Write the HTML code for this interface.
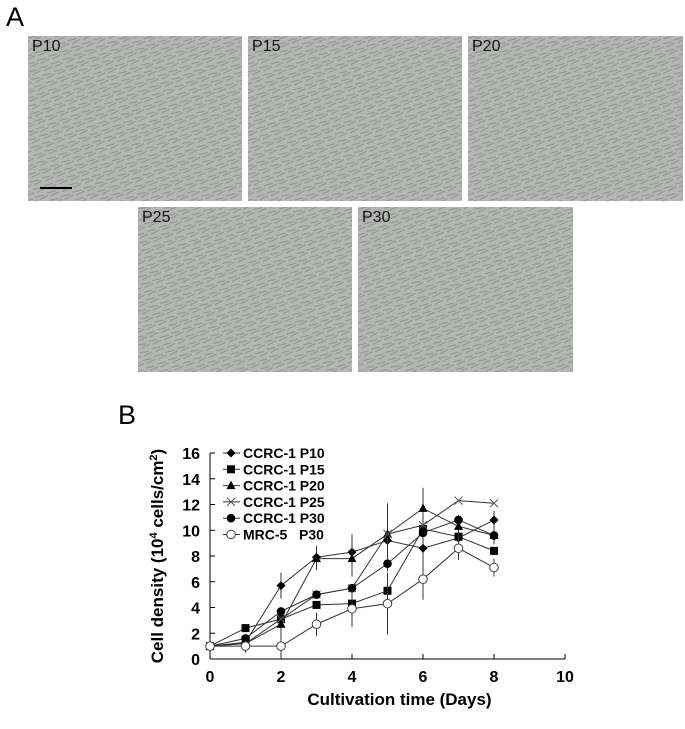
<!DOCTYPE html>
<html><head><meta charset="utf-8"><style>
body{margin:0;background:#fff;font-family:"Liberation Sans",Arial,sans-serif;}
#root{position:relative;width:685px;height:729px;overflow:hidden;}
.panel{position:absolute;width:214px;height:165px;background:#aeb0ae;overflow:hidden;}
.panel span{position:absolute;left:4px;top:2px;font-size:16px;color:#111;}
.bigl{position:absolute;font-size:27px;color:#000;}
</style></head><body>
<div id="root">
<svg width="0" height="0" style="position:absolute"><defs>
<pattern id="tex" width="12" height="8" patternUnits="userSpaceOnUse" patternTransform="rotate(-20)">
<rect width="12" height="8" fill="#b4b6b4"/>
<path d="M0 2 L9 3 M3 6 L12 5" stroke="#8e918e" stroke-width="1"/>
</pattern></defs></svg>
<div class="bigl" style="left:6px;top:2px">A</div>
<div class="panel" style="left:28px;top:36px"><svg width="214" height="165"><rect width="214" height="165" fill="url(#tex)"/><line x1="12" y1="152" x2="44" y2="152" stroke="#000" stroke-width="2"/></svg><span>P10</span></div>
<div class="panel" style="left:248px;top:36px"><svg width="214" height="165"><rect width="214" height="165" fill="url(#tex)"/></svg><span>P15</span></div>
<div class="panel" style="left:468px;top:36px;width:215px"><svg width="215" height="165"><rect width="215" height="165" fill="url(#tex)"/></svg><span>P20</span></div>
<div class="panel" style="left:138px;top:207px"><svg width="214" height="165"><rect width="214" height="165" fill="url(#tex)"/></svg><span>P25</span></div>
<div class="panel" style="left:358px;top:207px;width:215px"><svg width="215" height="165"><rect width="215" height="165" fill="url(#tex)"/></svg><span>P30</span></div>
<div class="bigl" style="left:118px;top:400px">B</div>
<svg id="chart" width="685" height="729" style="position:absolute;left:0;top:0"></svg>
</div>
<script>
const days=[0,1,2,3,4,5,6,7,8];
const xTicks=[0,2,4,6,8,10];
const yTicks=[0,2,4,6,8,10,12,14,16];
const seriesNames=["CCRC-1 P10","CCRC-1 P15","CCRC-1 P20","CCRC-1 P25","CCRC-1 P30","MRC-5   P30"];
const p10=[1,1.3,5.7,7.9,8.3,9.2,8.6,9.4,10.8];
const p15=[1,2.4,3.1,4.2,4.3,5.3,10.1,9.5,8.4];
const p20=[1,1.2,2.7,7.8,7.8,9.7,11.7,10.3,9.6];
const p25=[1,1.2,3.1,5.0,5.5,9.7,10.4,12.3,12.1];
const p30=[1,1.6,3.7,5.0,5.5,7.4,9.8,10.8,9.6];
const mrc5=[1,1.0,1.0,2.7,3.9,4.3,6.2,8.6,7.1];
const errs=[0,0.5,1.0,0.9,1.4,2.4,1.6,0.9,0.7];
const markers=["diamond","square","triangle","x","circle","open"];
const allSeries=[p10,p15,p20,p25,p30,mrc5];
const NS="http://www.w3.org/2000/svg";
const svg=document.getElementById("chart");
const x0=210,x1=565,y0=659,y1=453;
const X=v=>x0+(v-0)/(10-0)*(x1-x0);
const Y=v=>y0-(v-0)/(16-0)*(y0-y1);
function mk(t,a,p){const e=document.createElementNS(NS,t);for(const k in a)e.setAttribute(k,a[k]);(p||svg).appendChild(e);return e;}
let ax=mk("line",{x1:x0,y1:y0,x2:x1,y2:y0,stroke:"#000","stroke-width":1});


let ay=mk("line",{x1:x0,y1:y0,x2:x0,y2:y1,stroke:"#000","stroke-width":1});


xTicks.forEach(t=>{mk("line",{x1:X(t),y1:y0,x2:X(t),y2:y0-5,stroke:"#000"});
 const tx=mk("text",{x:X(t),y:y0+23,"text-anchor":"middle","font-size":16,"font-weight":"bold","font-family":"Liberation Sans"});tx.textContent=t;
 
 });
yTicks.forEach(t=>{mk("line",{x1:x0,y1:Y(t),x2:x0+5,y2:Y(t),stroke:"#000"});
 const tx=mk("text",{x:x0-10,y:Y(t)+6,"text-anchor":"end","font-size":16,"font-weight":"bold","font-family":"Liberation Sans"});tx.textContent=t;
 
 });
let xt=mk("text",{x:(x0+x1)/2+12,y:y0+46,"text-anchor":"middle","font-size":17,"font-weight":"bold","font-family":"Liberation Sans"});
xt.textContent="Cultivation time (Days)";


let yt=mk("text",{transform:`translate(163,${(y0+y1)/2}) rotate(-90)`,"text-anchor":"middle","font-size":17,"font-weight":"bold","font-family":"Liberation Sans"});
yt.innerHTML='Cell density (10<tspan dy="-6" font-size="11">4</tspan><tspan dy="6"> cells/cm</tspan><tspan dy="-6" font-size="11">2</tspan><tspan dy="6">)</tspan>';


function marker(type,cx,cy,g){
 if(type=="diamond")mk("path",{d:`M${cx} ${cy-4.5}L${cx+4.5} ${cy}L${cx} ${cy+4.5}L${cx-4.5} ${cy}Z`,fill:"#000"},g);
 else if(type=="square")mk("rect",{x:cx-4,y:cy-4,width:8,height:8,fill:"#000"},g);
 else if(type=="triangle")mk("path",{d:`M${cx} ${cy-5}L${cx+4.5} ${cy+3.5}L${cx-4.5} ${cy+3.5}Z`,fill:"#000"},g);
 else if(type=="x")mk("path",{d:`M${cx-4} ${cy-4}L${cx+4} ${cy+4}M${cx-4} ${cy+4}L${cx+4} ${cy-4}`,stroke:"#555","stroke-width":1},g);
 else if(type=="circle")mk("circle",{cx,cy,r:4.3,fill:"#000"},g);
 else mk("circle",{cx,cy,r:4.3,fill:"#fff",stroke:"#444"},g);
}
allSeries.forEach((s,i)=>{
 const g=mk("g",{});
 
 
 mk("polyline",{points:s.map((v,j)=>X(days[j])+","+Y(v)).join(" "),fill:"none",stroke:"#333","stroke-width":1},g);
 s.forEach((v,j)=>{if(errs[j]>0&&(i==0||i==2||i==5))mk("line",{x1:X(days[j]),x2:X(days[j]),y1:Y(v-errs[j]),y2:Y(v+errs[j]),stroke:"#333"},g);});
 s.forEach((v,j)=>marker(markers[i],X(days[j]),Y(v),g));
 const ly=453+i*16.3;
 const lg=mk("g",{},g);
 
 
 mk("line",{x1:223,x2:240,y1:ly,y2:ly,stroke:"#333"},lg);
 marker(markers[i],231,ly,lg);
 const t=mk("text",{x:243,y:ly+5,"font-size":14,"font-weight":"bold","font-family":"Liberation Sans"},lg);
 t.textContent=seriesNames[i];t.setAttribute("style","white-space:pre");
});
</script>
</body></html>
